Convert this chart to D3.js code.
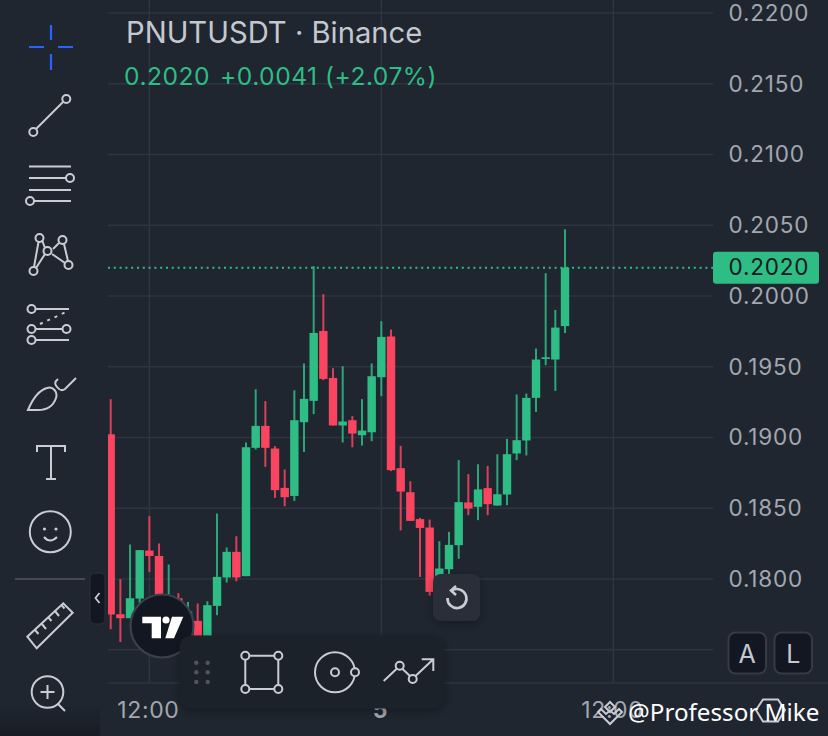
<!DOCTYPE html>
<html>
<head>
<meta charset="utf-8">
<script src="https://cdn.jsdelivr.net/npm/d3@7"></script>
<style>
  html, body { margin: 0; padding: 0; background: #1f2630; overflow: hidden; }
  svg { display: block; }
  text { font-family: Inter, "Noto Sans", sans-serif; }
</style>
</head>
<body>
<script>
var opens = [.19023,.17751,.17723,.17862,.18201,.18163,.17765,.17864,.17700,.17704,.17598,.17810,
  .18011,.18192,.18020,.18927,.19082,.18922,.18644,.18587,.19108,.19259,.19753,.19421,
  .19085,.19122,.19016,.19037,.19426,.19714,.18783,.18613,.18423,.18364,.17921,.18069,
  .18239,.18541,.18510,.18642,.18519,.18597,.18887,.18979,.19280,.19555,.19551,.19787];
var highs = [.19271,.17999,.18244,.18204,.18444,.18251,.18102,.17900,.17838,.17827,.17843,.18463,
  .18223,.18302,.18965,.19341,.19257,.18939,.18774,.19334,.19523,.20211,.20013,.19490,
  .19504,.19151,.19271,.19523,.19822,.19763,.18941,.18691,.18432,.18420,.18267,.18333,
  .18840,.18741,.18811,.18799,.18882,.18990,.19304,.19311,.19629,.20161,.19902,.20472];
var lows = [.17645,.17555,.17723,.17829,.18050,.17765,.17723,.17700,.17650,.17567,.17590,.17744,
  .17975,.17984,.18020,.18915,.18792,.18573,.18514,.18552,.18898,.19165,.19405,.19085,
  .18965,.18931,.18943,.18974,.19292,.18762,.18343,.18411,.18015,.17883,.17885,.18034,
  .18142,.18451,.18416,.18451,.18519,.18522,.18840,.18873,.19181,.19511,.19329,.19739];
var closes = [.17749,.17723,.17864,.18204,.18163,.17815,.17864,.17780,.17770,.17598,.17815,.18015,
  .18192,.18011,.18931,.19082,.18927,.18628,.18578,.19122,.19273,.19739,.19414,.19085,
  .19113,.19028,.19049,.19433,.19711,.18769,.18618,.18411,.18361,.17909,.18074,.18241,
  .18543,.18498,.18633,.18529,.18599,.18882,.18981,.19280,.19551,.19567,.19777,.20201];

var priceTicks = [0.22, 0.215, 0.21, 0.205, 0.20, 0.195, 0.19, 0.185, 0.18];
var gridPrices = [0.22, 0.215, 0.21, 0.205, 0.20, 0.195, 0.19, 0.185, 0.18, 0.175];
var timeTicks = [4, 28, 52];
var timeLabels = ["12:00", "5", "12:00"];
var lastPrice = 0.2020;

var width = 828, height = 736;
var paneLeft = 108, paneRight = 713, paneBottom = 683;

var upColor = "#2ebd85", downColor = "#fb4560", gridColor = "#2e3540";
var iconColor = "#c9ccd3", axisColor = "#a3a7af";

var svg = d3.select("body").append("svg").attr("width", width).attr("height", height);

var x = d3.scaleLinear().domain([0, 47]).range([110.7, 565]);
var y = d3.scaleLinear().domain([0.18, 0.19]).range([579, 437.5]);

/* bottom left gets darker */
var defs = svg.append("defs");
var fade = defs.append("linearGradient").attr("id", "fade").attr("x1", 0).attr("x2", 0).attr("y1", 0).attr("y2", 1);
fade.append("stop").attr("offset", 0).attr("stop-color", "#1f2630");
fade.append("stop").attr("offset", 1).attr("stop-color", "#181c24");
defs.append("clipPath").attr("id", "pane").append("rect")
  .attr("x", paneLeft).attr("y", 0).attr("width", paneRight - paneLeft).attr("height", paneBottom);
var blur = defs.append("filter").attr("id", "shadow").attr("x", "-20%").attr("y", "-30%").attr("width", "140%").attr("height", "160%");
blur.append("feDropShadow").attr("dx", 0).attr("dy", 3).attr("stdDeviation", 5).attr("flood-color", "#000").attr("flood-opacity", 0.3);

svg.append("rect").attr("x", 0).attr("y", 704).attr("width", 100).attr("height", 32).attr("fill", "url(#fade)");

/* Grid */
svg.append("g").selectAll("line").data(gridPrices).join("line")
  .attr("x1", paneLeft).attr("x2", paneRight)
  .attr("y1", function(d) { return y(d); }).attr("y2", function(d) { return y(d); })
  .attr("stroke", gridColor).attr("stroke-width", 1.5);
svg.append("g").selectAll("line").data(timeTicks).join("line")
  .attr("x1", function(d) { return x(d); }).attr("x2", function(d) { return x(d); })
  .attr("y1", 0).attr("y2", paneBottom)
  .attr("stroke", gridColor).attr("stroke-width", 1.5);
svg.append("line").attr("x1", paneLeft).attr("x2", width)
  .attr("y1", paneBottom).attr("y2", paneBottom).attr("stroke", gridColor).attr("stroke-width", 1.5);

/* Axes */
var yAxis = d3.axisRight(y).tickValues(priceTicks).tickSize(0).tickPadding(0)
  .tickFormat(d3.format(".4f"));
var yG = svg.append("g").attr("transform", "translate(728.5,-0.8)").call(yAxis);
yG.select(".domain").remove();
yG.selectAll("text").attr("fill", axisColor).attr("font-size", 22.5)
  .style("letter-spacing", "0.8px").attr("dy", "0.36em");

var xAxis = d3.axisBottom(x).tickValues(timeTicks).tickSize(0).tickPadding(0)
  .tickFormat(function(d, i) { return timeLabels[i]; });
var xG = svg.append("g").attr("transform", "translate(-1.5,701)").call(xAxis);
xG.select(".domain").remove();
xG.selectAll("text").attr("fill", axisColor).attr("font-size", 23).attr("dy", "0.75em")
  .style("letter-spacing", "0.6px")
  .attr("font-weight", function(d, i) { return timeLabels[i] === "5" ? 700 : 400; });

/* Last price line */
svg.append("line").attr("x1", paneLeft).attr("x2", paneRight)
  .attr("y1", y(lastPrice)).attr("y2", y(lastPrice))
  .attr("stroke", upColor).attr("stroke-width", 2).attr("stroke-dasharray", "2 3.8");

/* Candles */
var candles = d3.range(opens.length);
var plot = svg.append("g").attr("clip-path", "url(#pane)");
function candleColor(i) { return closes[i] >= opens[i] ? upColor : downColor; }
plot.selectAll("line.wick").data(candles).join("line").attr("class", "wick")
  .attr("x1", function(i) { return x(i); }).attr("x2", function(i) { return x(i); })
  .attr("y1", function(i) { return y(highs[i]); }).attr("y2", function(i) { return y(lows[i]); })
  .attr("stroke", candleColor).attr("stroke-width", 2).attr("stroke-opacity", 0.85);
plot.selectAll("rect.body").data(candles).join("rect").attr("class", "body")
  .attr("x", function(i) { return x(i) - 4.2; }).attr("width", 8.4)
  .attr("y", function(i) { return y(Math.max(opens[i], closes[i])); })
  .attr("height", function(i) { return Math.max(1.5, Math.abs(y(opens[i]) - y(closes[i]))); })
  .attr("fill", candleColor);

/* Price tag */
svg.append("rect").attr("x", 713).attr("y", y(lastPrice) - 16).attr("width", 106).attr("height", 32)
  .attr("rx", 3).attr("fill", upColor);
svg.append("text").attr("x", 728.5).attr("y", y(lastPrice) - 0.8).attr("dy", "0.36em")
  .attr("font-size", 22.5).style("letter-spacing", "0.8px").attr("fill", "#14181f").text(d3.format(".4f")(lastPrice));

/* Header */
svg.append("text").attr("x", 126).attr("y", 43).attr("font-size", 29.2).attr("fill", "#c5c8cf")
  .text("PNUTUSDT · Binance");
var legend = svg.append("text").attr("y", 85).attr("font-size", 24.6).attr("fill", upColor)
  .style("letter-spacing", "0.5px");
legend.append("tspan").attr("x", 124).text(d3.format(".4f")(lastPrice));
legend.append("tspan").attr("x", 220).text("+0.0041 (+2.07%)");

/* Left tools */
var tools = svg.append("g").attr("fill", "none").attr("stroke", iconColor).attr("stroke-width", 2);
function path(g, d) { return g.append("path").attr("d", d); }
function ring(g, cx, cy, r) { return g.append("circle").attr("cx", cx).attr("cy", cy).attr("r", r); }

path(tools, "M51,25V40M51,54V70M29,47H44M58,47H73").attr("stroke", "#2962ff").attr("stroke-width", 2.2);

path(tools, "M36,129L63,102");
ring(tools, 33.3, 132, 4); ring(tools, 66.3, 99, 4);

path(tools, "M29,166.5H71M29,178H66M29,190H71M34,201H71");
ring(tools, 70, 178, 4); ring(tools, 30, 201, 4);

path(tools, "M38.5,242L34,267M42,240L45,248M53,249L59,243M64,244L68,261M52,254L65,263M45,254L36,268");
ring(tools, 39.5, 238, 4); ring(tools, 62.5, 240, 4); ring(tools, 47.5, 251, 4);
ring(tools, 33.5, 271, 4); ring(tools, 68.5, 265, 4);

path(tools, "M36,309H69M36,329H62M36,340H69");
path(tools, "M40,324L66,312").attr("stroke-dasharray", "3 5");
ring(tools, 31.5, 309, 4); ring(tools, 31.5, 329, 4); ring(tools, 66.5, 329, 4); ring(tools, 31.5, 340, 4);

path(tools, "M28,410C33,398 40,390 47,388C53,386 58,392 56,398C53,407 46,410 38,410Z");
path(tools, "M58,379Q53,383 57,387Q61,392 65,389L76,378");

path(tools, "M37,452V446H65V452M51,446V479M46,479H56");

ring(tools, 50.3, 531.7, 20.5);
path(tools, "M44,537Q50,544 57,537");
tools.append("circle").attr("cx", 44.5).attr("cy", 529).attr("r", 1.6).attr("fill", iconColor).attr("stroke", "none");
tools.append("circle").attr("cx", 56).attr("cy", 529).attr("r", 1.6).attr("fill", iconColor).attr("stroke", "none");

path(tools, "M15,579H85").attr("stroke", "#454a55");

path(tools, "M27.3,636.7L36.7,648.3L72.7,612.7L63.3,603.3Z");
path(tools, "M35,630L38.5,634M41.5,623.5L46,629M48,617L51.5,621M54.5,610.5L59,616M61,604.5L64.5,608.5");

ring(tools, 47.5, 692, 15.8);
path(tools, "M47.5,685V699M40.5,692H54.5M58,704L65,711");

/* Collapse tab */
svg.append("rect").attr("x", 90).attr("y", 573).attr("width", 15).attr("height", 51).attr("rx", 5)
  .attr("fill", "#131722").attr("stroke", "#2b303a");
path(svg.append("g").attr("fill", "none").attr("stroke", iconColor).attr("stroke-width", 1.8), "M99.5,593L95.5,598L99.5,603");

/* TV logo */
var logo = svg.append("g");
logo.append("circle").attr("cx", 162).attr("cy", 626).attr("r", 31.5)
  .attr("fill", "#131722").attr("stroke", "#3c404a").attr("stroke-width", 2.2);
path(logo, "M142.3,616.7H161V638.3H151.7V623.3H142.3Z").attr("fill", "#fff");
logo.append("circle").attr("cx", 166).attr("cy", 620).attr("r", 3.6).attr("fill", "#fff");
path(logo, "M172,616.7H183.3L174,638.3H165.3Z").attr("fill", "#fff");

/* Reset button */
svg.append("rect").attr("x", 433).attr("y", 574).attr("width", 47).attr("height", 47).attr("rx", 8)
  .attr("fill", "#2a2e38").attr("filter", "url(#shadow)");
var reset = svg.append("g").attr("fill", "none").attr("stroke", iconColor).attr("stroke-width", 2.6);
path(reset, "M452,590.5A9.5,9.5 0 1 1 447.5,598");
path(reset, "M456,586L451,590.5L456,595");

/* Floating toolbar */
svg.append("rect").attr("x", 179.5).attr("y", 635.5).attr("width", 265).attr("height", 73).attr("rx", 12)
  .attr("fill", "#1d2029").attr("filter", "url(#shadow)");
var bar = svg.append("g").attr("fill", "none").attr("stroke", iconColor).attr("stroke-width", 2);
[196.3, 207.7].forEach(function(cx) {
  [662.7, 672.3, 682].forEach(function(cy) {
    bar.append("circle").attr("cx", cx).attr("cy", cy).attr("r", 2.2).attr("fill", "#50545c").attr("stroke", "none");
  });
});
path(bar, "M249.5,655.7H274M245.3,660V685M278.3,660V685M249.5,689H274");
ring(bar, 245.3, 655.7, 4); ring(bar, 278.3, 655.7, 4); ring(bar, 245.3, 689, 4); ring(bar, 278.3, 689, 4);
ring(bar, 335, 672.3, 20); ring(bar, 335, 672.3, 4);
ring(bar, 355, 672.3, 4).attr("fill", "#1d2029");
path(bar, "M383.7,681L397,668.5M402.5,669L410,676M415.5,676L433.3,659.3M421.7,659.3H433.3V671");
ring(bar, 399.7, 665.7, 4); ring(bar, 412.7, 679, 4);

/* A / L buttons */
[["A", 728.5], ["L", 774.5]].forEach(function(b) {
  svg.append("rect").attr("x", b[1]).attr("y", 632.5).attr("width", 37.5).attr("height", 41).attr("rx", 7)
    .attr("fill", "#131722").attr("stroke", "#363a45").attr("stroke-width", 2);
  svg.append("text").attr("x", b[1] + 18.7).attr("y", 663).attr("text-anchor", "middle")
    .attr("font-size", 25).attr("fill", "#c5c8cf").text(b[0]);
});

/* Watermark */
var mark = svg.append("g").attr("fill", "none").attr("stroke", "#c9ccd3").attr("stroke-width", 2);
path(mark, "M610,702L615,707L610,712L605,707ZM601,709L606,714L610,710.5L614,714L619,709L622,712L610,724L598,712Z");
path(mark, "M763,699.5H778L785,710L778,721.5H763L756,710Z");
svg.append("text").attr("x", 628).attr("y", 721).attr("font-size", 24.2)
  .style("font-family", "'Noto Sans', sans-serif").attr("fill", "#fff").text("@Professor Mike");
</script>
</body>
</html>
